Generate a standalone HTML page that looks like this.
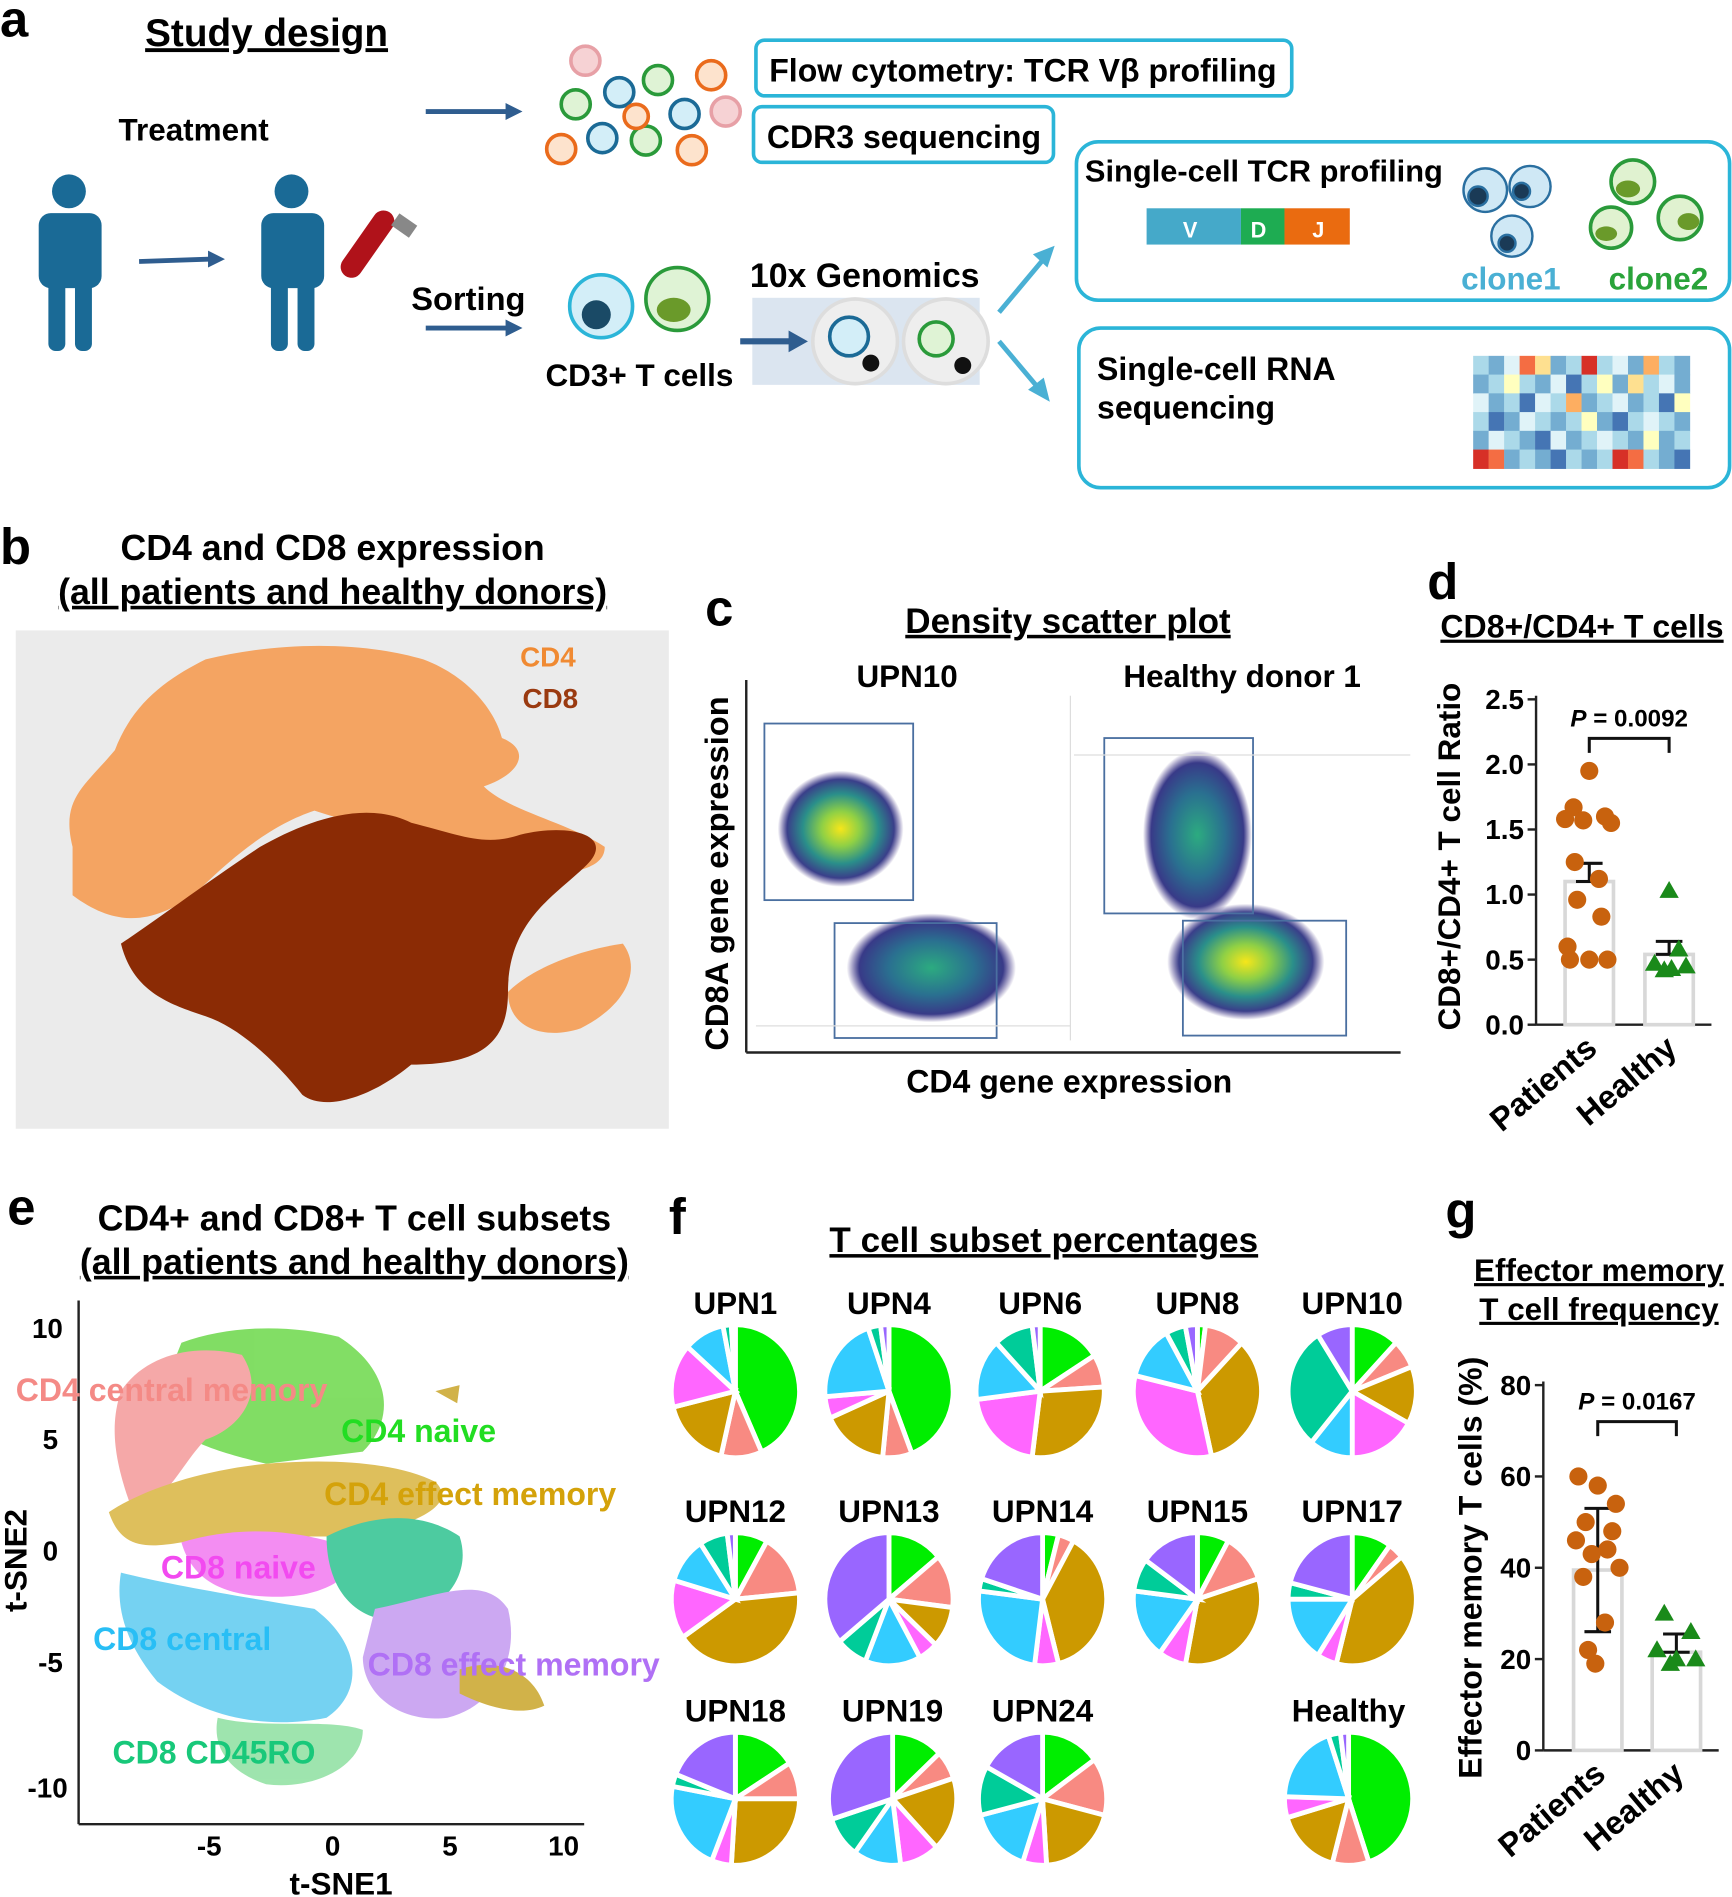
<!DOCTYPE html>
<html><head><meta charset="utf-8">
<style>
html,body{margin:0;padding:0;background:#fff;}
svg{display:block;font-family:"Liberation Sans",Arial,sans-serif;font-weight:bold;}
</style></head>
<body>
<svg id="fig" width="1732" height="1897" viewBox="0 0 1432 1568" xmlns="http://www.w3.org/2000/svg">
<defs>
<radialGradient id="dens" cx="50%" cy="50%" r="50%">
<stop offset="0" stop-color="#f6e61a"/><stop offset="0.3" stop-color="#8fd045"/><stop offset="0.6" stop-color="#2a8f8a"/><stop offset="0.85" stop-color="#3a3f8a"/><stop offset="1" stop-color="#3a2a80" stop-opacity="0"/>
</radialGradient>
<radialGradient id="dens2" cx="50%" cy="50%" r="50%">
<stop offset="0" stop-color="#2cab80"/><stop offset="0.5" stop-color="#2a7090"/><stop offset="0.85" stop-color="#383a88"/><stop offset="1" stop-color="#3a2a80" stop-opacity="0"/>
</radialGradient>
</defs>

<!-- Panel a -->
<g>
<text x="0" y="30" font-size="42">a</text>
<text x="120" y="38" font-size="32" text-decoration="underline">Study design</text>
<text x="98" y="116" font-size="26">Treatment</text>
<g fill="#1a6a96">
<circle cx="57" cy="158" r="14"/><rect x="32" y="176" width="52" height="62" rx="10"/><rect x="40" y="225" width="14" height="65" rx="6"/><rect x="62" y="225" width="14" height="65" rx="6"/>
</g>
<g fill="#1a6a96">
<circle cx="241" cy="158" r="14"/><rect x="216" y="176" width="52" height="62" rx="10"/><rect x="224" y="225" width="14" height="65" rx="6"/><rect x="246" y="225" width="14" height="65" rx="6"/>
</g>
<g><rect x="296" y="170" width="18" height="64" rx="9" fill="#b0121a" transform="rotate(35 305 200)"/><rect x="312" y="166" width="18" height="12" fill="#888" transform="rotate(35 305 200)"/></g>
<g stroke="#2f5d8f" stroke-width="4" fill="#2f5d8f">
<line x1="115" y1="216" x2="175" y2="214"/><polygon points="186,214 172,207 172,221" stroke="none"/>
<line x1="352" y1="92" x2="420" y2="92"/><polygon points="432,92 418,85 418,99" stroke="none"/>
<line x1="352" y1="271" x2="420" y2="271"/><polygon points="432,271 418,264 418,278" stroke="none"/>
</g>
<text x="340" y="256" font-size="27">Sorting</text>
<g stroke-width="3">
<circle cx="484" cy="50" r="12" fill="#f6d2d4" stroke="#e7a0a6"/><circle cx="476" cy="86" r="12" fill="#dff3d5" stroke="#2a9a3a"/><circle cx="512" cy="76" r="12" fill="#d3eef8" stroke="#1b6a96"/><circle cx="544" cy="66" r="12" fill="#dff3d5" stroke="#2a9a3a"/><circle cx="588" cy="62" r="12" fill="#fde3cd" stroke="#ea6b1c"/><circle cx="566" cy="94" r="12" fill="#d3eef8" stroke="#1b6a96"/><circle cx="600" cy="92" r="12" fill="#f6d2d4" stroke="#e7a0a6"/><circle cx="464" cy="123" r="12" fill="#fde3cd" stroke="#ea6b1c"/><circle cx="498" cy="114" r="12" fill="#d3eef8" stroke="#1b6a96"/><circle cx="534" cy="116" r="12" fill="#dff3d5" stroke="#2a9a3a"/><circle cx="572" cy="124" r="12" fill="#fde3cd" stroke="#ea6b1c"/><circle cx="526" cy="96" r="10" fill="#fde3cd" stroke="#ea6b1c"/>
</g>
<rect x="625" y="33" width="443" height="46" rx="7" fill="none" stroke="#2bb5d8" stroke-width="3"/>
<text x="636" y="67" font-size="26.5">Flow cytometry: TCR Vβ profiling</text>
<rect x="623" y="88" width="248" height="46" rx="7" fill="none" stroke="#2bb5d8" stroke-width="3"/>
<text x="634" y="122" font-size="26.5">CDR3 sequencing</text>
<g>
<circle cx="497" cy="253" r="26" fill="#d3eef8" stroke="#2bb5d8" stroke-width="3"/><circle cx="493" cy="260" r="12" fill="#1a4a66"/>
<circle cx="560" cy="247" r="26" fill="#dff3d5" stroke="#2a9a3a" stroke-width="3"/><ellipse cx="557" cy="256" rx="14" ry="10" fill="#6a9a2a"/>
</g>
<text x="451" y="319" font-size="26">CD3+ T cells</text>
<text x="620" y="237" font-size="28">10x Genomics</text>
<rect x="622" y="246" width="188" height="72" fill="#dbe5f0"/>
<line x1="612" y1="282" x2="655" y2="282" stroke="#2f5d8f" stroke-width="5"/><polygon points="668,282 652,273 652,291" fill="#2f5d8f"/>
<g>
<circle cx="707" cy="282" r="35" fill="#eee" stroke="#ddd" stroke-width="3"/><circle cx="702" cy="278" r="16" fill="#d3eef8" stroke="#1b6a96" stroke-width="3"/><circle cx="720" cy="300" r="7" fill="#111"/>
<circle cx="782" cy="282" r="35" fill="#eee" stroke="#ddd" stroke-width="3"/><circle cx="774" cy="280" r="14" fill="#dff3d5" stroke="#2a9a3a" stroke-width="3"/><circle cx="796" cy="302" r="7" fill="#111"/>
</g>
<g stroke="#4ab0d4" stroke-width="4" fill="#4ab0d4">
<line x1="826" y1="258" x2="862" y2="215"/><polygon points="872,203 854,210 866,221" stroke="none"/>
<line x1="826" y1="282" x2="858" y2="320"/><polygon points="868,332 850,322 863,312" stroke="none"/>
</g>
<rect x="890" y="117" width="540" height="131" rx="18" fill="none" stroke="#2bb5d8" stroke-width="3"/>
<text x="897" y="150" font-size="25.5">Single-cell TCR profiling</text>
<rect x="948" y="172" width="78" height="30" fill="#45a9c9"/><rect x="1026" y="172" width="36" height="30" fill="#1eac52"/><rect x="1062" y="172" width="54" height="30" fill="#ea6b10"/>
<text x="978" y="196" font-size="18" fill="#fff">V</text><text x="1034" y="196" font-size="18" fill="#fff">D</text><text x="1085" y="196" font-size="18" fill="#fff">J</text>
<g stroke="#2a6fa0" stroke-width="2" fill="#cfe8f5">
<circle cx="1228" cy="157" r="18"/><circle cx="1265" cy="154" r="17"/><circle cx="1250" cy="195" r="17"/><circle cx="1222" cy="162" r="8" fill="#1a3a56"/><circle cx="1258" cy="158" r="7" fill="#1a3a56"/><circle cx="1246" cy="201" r="7" fill="#1a3a56"/>
</g>
<text x="1208" y="239" font-size="26" fill="#4ab0d4">clone1</text>
<g stroke="#2a9a3a" stroke-width="3" fill="#e0f2d0">
<circle cx="1350" cy="150" r="18"/><circle cx="1389" cy="180" r="18"/><circle cx="1332" cy="188" r="17"/><ellipse cx="1346" cy="156" rx="10" ry="7" fill="#6a9a2a" stroke="none"/><ellipse cx="1396" cy="183" rx="9" ry="7" fill="#6a9a2a" stroke="none"/><ellipse cx="1328" cy="193" rx="9" ry="6" fill="#6a9a2a" stroke="none"/>
</g>
<text x="1330" y="239" font-size="26" fill="#2aa33a">clone2</text>
<rect x="892" y="271" width="538" height="132" rx="18" fill="none" stroke="#2bb5d8" stroke-width="3"/>
<text x="907" y="314" font-size="26.5">Single-cell RNA</text>
<text x="907" y="346" font-size="26.5">sequencing</text>
<g id="heatmap"></g>
</g>

<!-- Panel b -->
<g>
<text x="0" y="466" font-size="42">b</text>
<text x="275" y="463" font-size="29.5" text-anchor="middle">CD4 and CD8 expression</text>
<text x="275" y="499" font-size="29.5" text-anchor="middle" text-decoration="underline">(all patients and healthy donors)</text>
<rect x="13" y="521" width="540" height="412" fill="#ebebeb"/>
<path d="M60,700 C50,660 70,650 95,620 C110,580 140,560 170,545 C230,530 300,530 350,545 C390,560 410,590 415,610 C440,620 430,640 400,650 C420,670 470,680 500,700 C500,720 470,720 440,730 C420,740 400,720 380,700 C330,690 290,680 260,670 C230,680 200,700 160,740 C130,760 100,770 60,740 Z" fill="#f4a462"/>
<path d="M420,820 C440,800 480,785 515,780 C530,800 520,830 480,850 C450,860 420,850 420,820 Z" fill="#f4a462"/>
<path d="M100,780 C130,760 170,730 215,700 C250,680 300,660 340,680 C380,690 400,700 430,690 C470,680 510,690 485,715 C460,740 420,760 420,820 C420,860 400,880 340,880 C310,905 270,920 250,905 C230,880 200,850 170,840 C140,830 110,820 100,780 Z" fill="#8b2b05"/>
<text x="430" y="551" font-size="23" fill="#f08a32">CD4</text>
<text x="432" y="585" font-size="23" fill="#9a3a10">CD8</text>
</g>

<!-- Panel c -->
<g>
<text x="583" y="517" font-size="42">c</text>
<text x="883" y="523" font-size="29" text-anchor="middle" text-decoration="underline">Density scatter plot</text>
<text x="750" y="568" font-size="26" text-anchor="middle">UPN10</text>
<text x="1027" y="568" font-size="26" text-anchor="middle">Healthy donor 1</text>
<line x1="617" y1="562" x2="617" y2="870" stroke="#222" stroke-width="2"/>
<line x1="617" y1="870" x2="1158" y2="870" stroke="#222" stroke-width="2"/>
<text transform="translate(602,722) rotate(-90)" font-size="27" text-anchor="middle">CD8A gene expression</text>
<text x="884" y="903" font-size="26.5" text-anchor="middle">CD4 gene expression</text>
<g id="density"></g>
</g>

<!-- Panel d -->
<g>
<text x="1180" y="495" font-size="42">d</text>
<text x="1308" y="527" font-size="26.5" text-anchor="middle" text-decoration="underline">CD8+/CD4+ T cells</text>
<text transform="translate(1207,708) rotate(-90)" font-size="26" text-anchor="middle">CD8+/CD4+ T cell Ratio</text>
<g id="chartd"></g>
</g>

<!-- Panel e -->
<g>
<text x="6" y="1012" font-size="42">e</text>
<text x="293" y="1017" font-size="29.5" text-anchor="middle">CD4+ and CD8+ T cell subsets</text>
<text x="293" y="1053" font-size="29.5" text-anchor="middle" text-decoration="underline">(all patients and healthy donors)</text>
<g opacity="0.85">
<path d="M150,1110 C190,1095 240,1095 280,1105 C320,1130 330,1170 300,1200 L220,1210 C180,1200 140,1190 130,1160 Z" fill="#6cd84a"/>
<path d="M100,1150 C120,1120 160,1110 200,1120 C220,1150 200,1180 170,1190 C150,1210 140,1240 110,1250 C95,1210 90,1180 100,1150 Z" fill="#f49a9a"/>
<path d="M90,1250 C120,1230 170,1215 220,1210 C280,1205 330,1210 360,1225 C380,1245 340,1260 300,1270 C260,1270 200,1270 150,1275 C120,1280 100,1280 90,1250 Z" fill="#d9b440"/>
<path d="M150,1275 C200,1260 250,1265 290,1280 C300,1300 270,1320 230,1320 C190,1320 160,1310 150,1275 Z" fill="#f27af0"/>
<path d="M270,1270 C310,1250 350,1250 380,1270 C390,1300 370,1330 330,1340 C290,1340 270,1310 270,1270 Z" fill="#2ec290"/>
<path d="M100,1300 C140,1310 200,1320 260,1330 C300,1360 300,1400 270,1420 C220,1430 170,1420 130,1390 C105,1360 95,1330 100,1300 Z" fill="#5dcbf0"/>
<path d="M310,1330 C360,1320 400,1300 420,1330 C430,1370 410,1410 370,1420 C330,1425 300,1400 300,1370 Z" fill="#c49af0"/>
<path d="M180,1420 C220,1430 270,1420 300,1430 C300,1460 260,1480 220,1475 C190,1465 175,1445 180,1420 Z" fill="#8ee0a0"/>
<path d="M360,1150 L380,1145 L378,1160 Z M380,1380 C410,1370 440,1380 450,1410 C430,1420 400,1410 380,1400 Z" fill="#c9a52a"/>
</g>
<line x1="65" y1="1075" x2="65" y2="1508" stroke="#222" stroke-width="2"/>
<line x1="65" y1="1508" x2="483" y2="1508" stroke="#222" stroke-width="2"/>
<g font-size="23" text-anchor="end">
<text x="52" y="1106">10</text><text x="48" y="1198">5</text><text x="48" y="1290">0</text><text x="52" y="1382">-5</text><text x="56" y="1486">-10</text></g>
<g font-size="23" text-anchor="middle">
<text x="173" y="1534">-5</text><text x="275" y="1534">0</text><text x="372" y="1534">5</text><text x="466" y="1534">10</text></g>
<text x="282" y="1566" font-size="26" text-anchor="middle">t-SNE1</text>
<text transform="translate(22,1290) rotate(-90)" font-size="26" text-anchor="middle">t-SNE2</text>
<g font-size="26.5" font-weight="bold">
<text x="13" y="1158" fill="#f48a86">CD4 central memory</text>
<text x="282" y="1192" fill="#22dd22">CD4 naive</text>
<text x="268" y="1244" fill="#d4a20a">CD4 effect memory</text>
<text x="133" y="1305" fill="#f24af0">CD8 naive</text>
<text x="77" y="1364" fill="#28bef5">CD8 central</text>
<text x="304" y="1385" fill="#b070f5">CD8 effect memory</text>
<text x="93" y="1458" fill="#18c87a">CD8 CD45RO</text>
</g>
</g>

<!-- Panel f -->
<g>
<text x="553" y="1020" font-size="42">f</text>
<text x="863" y="1035" font-size="29" text-anchor="middle" text-decoration="underline">T cell subset percentages</text>
<g id="pies"></g>
</g>

<!-- Panel g -->
<g>
<text x="1195" y="1015" font-size="42">g</text>
<text x="1322" y="1059" font-size="26" text-anchor="middle" text-decoration="underline">Effector memory</text>
<text x="1322" y="1091" font-size="26" text-anchor="middle" text-decoration="underline">T cell frequency</text>
<text transform="translate(1225,1296) rotate(-90)" font-size="26.5" text-anchor="middle">Effector memory T cells (%)</text>
<g id="chartg"></g>
</g>
</svg>

<script>
const NS='http://www.w3.org/2000/svg';
function mk(tag,attrs,parent){const e=document.createElementNS(NS,tag);for(const k in attrs)e.setAttribute(k,attrs[k]);parent.appendChild(e);return e;}

/* heatmap icon */
const heatColors=['#d73027','#f46d43','#fdae61','#fee090','#ffffbf','#e0f3f8','#abd9e9','#74add1','#4575b4'];
const heatRows=[[6,7,5,1,3,7,6,0,6,5,7,2,6,7],[7,6,4,6,7,5,8,6,4,7,3,6,5,7],[5,7,6,8,5,6,2,7,6,5,7,6,8,4],[6,8,7,5,6,7,6,4,7,8,6,5,6,7],[7,5,6,7,8,5,7,6,5,6,7,4,7,6],[0,1,7,6,7,8,6,7,6,0,1,6,7,8]];
const hm=document.getElementById('heatmap');
heatRows.forEach((row,r)=>row.forEach((v,c)=>{const e=mk('rect',{x:1218+c*12.8,y:294+r*15.5,width:13,height:16,fill:heatColors[v]},hm);

}));

/* density panels */
const dens=document.getElementById('density');
const densClusters=[[695,685,52,48,'dens'],[770,800,70,45,'dens2'],[990,690,45,70,'dens2'],[1030,795,65,48,'dens']];
densClusters.forEach(d=>{const e=mk('ellipse',{cx:d[0],cy:d[1],rx:d[2],ry:d[3],fill:'url(#'+d[4]+')'},dens);

});
const gates=[[632,598,123,146],[690,763,134,95],[913,610,123,145],[978,761,135,95]];
gates.forEach(g=>{const e=mk('rect',{x:g[0],y:g[1],width:g[2],height:g[3],fill:'none',stroke:'#4a6fa0','stroke-width':1.5},dens);

});
mk('line',{x1:885,y1:575,x2:885,y2:860,stroke:'#ddd','stroke-width':1},dens);
mk('line',{x1:625,y1:848,x2:885,y2:848,stroke:'#ddd','stroke-width':1},dens);
mk('line',{x1:888,y1:624,x2:1166,y2:624,stroke:'#ddd','stroke-width':1},dens);

/* bar chart helper */
function barChart(gid,cfg){
  const g=document.getElementById(gid);
  const y=v=>cfg.y0-(v-0)*(cfg.y0-cfg.y1)/cfg.max;
  mk('line',{x1:cfg.ax,y1:y(cfg.max)-3,x2:cfg.ax,y2:cfg.y0,stroke:'#222','stroke-width':2},g);
  mk('line',{x1:cfg.ax,y1:cfg.y0,x2:cfg.ax+145,y2:cfg.y0,stroke:'#222','stroke-width':2},g);
  cfg.ticks.forEach((t,i)=>{const yy=y(t);
    mk('line',{x1:cfg.ax-7,y1:yy,x2:cfg.ax,y2:yy,stroke:'#222','stroke-width':2},g);
    const tx=mk('text',{x:cfg.ax-10,y:yy+8,'font-size':23,'text-anchor':'end'},g);tx.textContent=cfg.tickLabels[i];
    
    });
  cfg.groups.forEach((grp,i)=>{
    const cx=cfg.bx[i];
    const b=mk('rect',{x:cx-20,y:y(grp.mean),width:40,height:cfg.y0-y(grp.mean),fill:'#fff',stroke:'#d8d8d8','stroke-width':3},g);
    
    
    mk('line',{x1:cx,y1:y(grp.lo),x2:cx,y2:y(grp.hi),stroke:'#111','stroke-width':2.5},g);
    mk('line',{x1:cx-11,y1:y(grp.hi),x2:cx+11,y2:y(grp.hi),stroke:'#111','stroke-width':2.5},g);
    mk('line',{x1:cx-11,y1:y(grp.lo),x2:cx+11,y2:y(grp.lo),stroke:'#111','stroke-width':2.5},g);
    grp.pts.forEach((v,j)=>{const dx=grp.off[j%grp.off.length];let p;
      if(grp.tri){const py=y(v);p=mk('polygon',{points:`${cx+dx},${py-8} ${cx+dx-8},${py+6} ${cx+dx+8},${py+6}`,fill:'#1a8a1a'},g);}
      else p=mk('circle',{cx:cx+dx,cy:y(v),r:7.5,fill:'#c8620e'},g);
      
      });
    const lt=mk('text',{transform:`translate(${cx+8},${cfg.y0+22}) rotate(-40)`,'font-size':27,'text-anchor':'end'},g);lt.textContent=grp.name;
    
    
  });
  const by=y(cfg.brY);
  mk('path',{d:`M${cfg.bx[0]},${by+12} V${by} H${cfg.bx[1]} V${by+12}`,fill:'none',stroke:'#111','stroke-width':2.5},g);
  const pt=mk('text',{x:(cfg.bx[0]+cfg.bx[1])/2,y:by-10,'font-size':20,'text-anchor':'middle','font-weight':'normal'},g);
  pt.innerHTML='<tspan font-style="italic" font-weight="bold">P</tspan><tspan font-weight="bold"> = '+cfg.p+'</tspan>';
}
const dTicks=[0,0.5,1,1.5,2,2.5];
const dTickLabels=['0.0','0.5','1.0','1.5','2.0','2.5'];
const dPatients=[1.95,1.67,1.6,1.58,1.57,1.55,1.25,1.12,0.96,0.83,0.6,0.5,0.5,0.5];
const dHealthy=[1.03,0.58,0.47,0.45,0.42,0.43];
barChart('chartd',{ax:1270,y0:847,y1:578,max:2.5,ticks:dTicks,tickLabels:dTickLabels,bx:[1314,1380],brY:2.2,p:'0.0092',
 groups:[{name:'Patients',mean:1.1,lo:1.1,hi:1.24,pts:dPatients,off:[0,-13,13,-20,-5,18,-12,8,-10,10,-18,0,15,-16]},
         {name:'Healthy',mean:0.54,lo:0.54,hi:0.64,pts:dHealthy,tri:true,off:[0,8,-12,14,-4,2]}]});
const gTicks=[0,20,40,60,80];
const gTickLabels=['0','20','40','60','80'];
const gPatients=[60,58,54,50,48,46,44,43,40,38,28,22,19];
const gHealthy=[30,26,22,20,20,19];
barChart('chartg',{ax:1276,y0:1447,y1:1145,max:80,ticks:gTicks,tickLabels:gTickLabels,bx:[1321,1386],brY:72,p:'0.0167',
 groups:[{name:'Patients',mean:39.5,lo:26,hi:53,pts:gPatients,off:[-16,0,15,-10,12,-18,8,-5,18,-12,6,-8,-2]},
         {name:'Healthy',mean:21.5,lo:21.5,hi:25.5,pts:gHealthy,tri:true,off:[-10,12,-16,0,16,-5]}]});

/* pies */
const pieColors=['#00ee00','#f88a82','#cc9900','#ff66ff','#33ccff','#00cc99','#9966ff'];
const pieNames=['UPN1','UPN4','UPN6','UPN8','UPN10','UPN12','UPN13','UPN14','UPN15','UPN17','UPN18','UPN19','UPN24','Healthy'];
const pieValues=[
 [42,10,17,15,10,2,1],[42,7,16,5,20,3,2],[16,8,28,21,15,10,2],[2,10,34,32,13,5,3],[12,7,14,17,11,30,9],
 [8,15,41,14,11,7,2],[14,13,10,5,14,8,36],[4,4,38,6,25,3,20],[8,12,33,7,17,8,15],[10,4,40,5,16,4,21],
 [16,9,26,5,22,3,19],[13,7,18,10,12,10,30],[15,14,20,6,16,12,17],[44,9,16,5,19,3,2]];
const piePos=[[608,1150],[735,1150],[860,1150],[990,1150],[1118,1150],[608,1322],[735,1322],[862,1322],[990,1322],[1118,1322],[608,1487],[738,1487],[862,1487],[1115,1487]];
const pies=document.getElementById('pies');
pieNames.forEach((n,i)=>{
  const [cx,cy]=piePos[i];const rx=53,ry=55;const vals=pieValues[i];const tot=vals.reduce((a,b)=>a+b,0);
  const lab=mk('text',{x:cx,y:cy-64,'font-size':26,'text-anchor':'middle'},pies);lab.textContent=n;
  
  
  let a=-Math.PI/2;
  vals.forEach((v,k)=>{const da=v/tot*2*Math.PI;const a2=a+da;
    const x1=cx+rx*Math.cos(a),y1=cy+ry*Math.sin(a),x2=cx+rx*Math.cos(a2),y2=cy+ry*Math.sin(a2);
    const s=mk('path',{d:`M${cx},${cy} L${x1},${y1} A${rx},${ry} 0 ${da>Math.PI?1:0} 1 ${x2},${y2} Z`,fill:pieColors[k],stroke:'#fff','stroke-width':4,'stroke-linejoin':'miter'},pies);
    
    
    a=a2;});
});
</script>
</body></html>
